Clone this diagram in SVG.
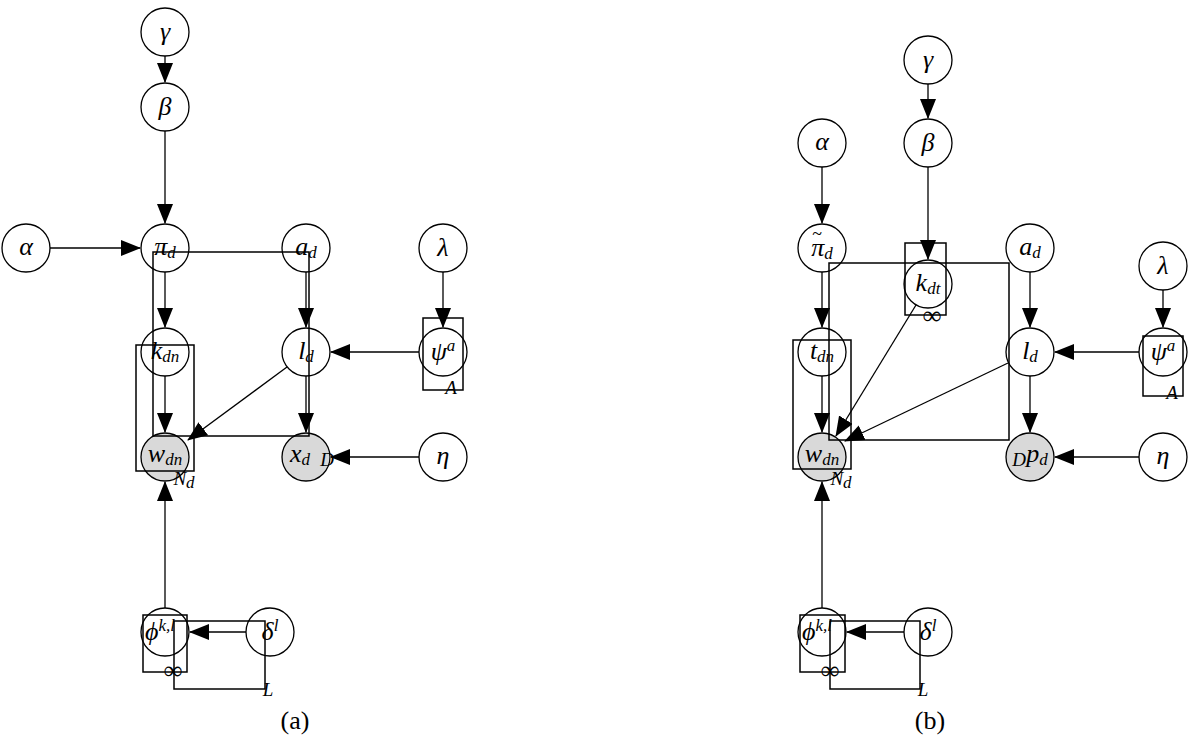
<svg xmlns="http://www.w3.org/2000/svg" width="1190" height="736" viewBox="0 0 1190 736">
<style>
.n{fill:#fff;stroke:#000;stroke-width:1.3}
.o{fill:#d9d9d9;stroke:#000;stroke-width:1.3}
.p{fill:none;stroke:#000;stroke-width:1.5}
.e{stroke:#000;stroke-width:1.3;fill:none;marker-end:url(#a)}
text{font-family:"Liberation Serif",serif;font-style:italic;font-size:26px;text-anchor:middle}
.s{font-size:17px}
.m{font-size:19px}
.c{font-style:normal;font-size:26px}
</style>
<defs><marker id="a" markerWidth="20" markerHeight="20" refX="19" refY="8" orient="auto" markerUnits="userSpaceOnUse"><path d="M0,0L20,8L0,16Z"/></marker></defs>
<g id="edges">
<line class="e" x1="165" y1="56" x2="165" y2="82"/>
<line class="e" x1="165" y1="131" x2="165" y2="223"/>
<line class="e" x1="50" y1="248" x2="140" y2="248"/>
<line class="e" x1="165" y1="272" x2="165" y2="327"/>
<line class="e" x1="306" y1="272" x2="306" y2="327"/>
<line class="e" x1="165" y1="376" x2="165" y2="432"/>
<line class="e" x1="287" y1="367" x2="188" y2="440"/>
<line class="e" x1="306" y1="376" x2="306" y2="432"/>
<line class="e" x1="443" y1="272" x2="443" y2="327"/>
<line class="e" x1="419" y1="352" x2="331" y2="352"/>
<line class="e" x1="419" y1="457" x2="331" y2="457"/>
<line class="e" x1="165" y1="608" x2="165" y2="482"/>
<line class="e" x1="246" y1="632" x2="190" y2="632"/>
<line class="e" x1="928" y1="84" x2="928" y2="118"/>
<line class="e" x1="928" y1="167" x2="928" y2="259"/>
<line class="e" x1="822" y1="167" x2="822" y2="223"/>
<line class="e" x1="822" y1="272" x2="822" y2="327"/>
<line class="e" x1="822" y1="376" x2="822" y2="432"/>
<line class="e" x1="916" y1="305" x2="836" y2="436"/>
<line class="e" x1="1008" y1="363" x2="845" y2="441"/>
<line class="e" x1="1030" y1="272" x2="1030" y2="327"/>
<line class="e" x1="1030" y1="376" x2="1030" y2="432"/>
<line class="e" x1="1163" y1="290" x2="1163" y2="327"/>
<line class="e" x1="1139" y1="352" x2="1055" y2="352"/>
<line class="e" x1="1139" y1="457" x2="1055" y2="457"/>
<line class="e" x1="822" y1="608" x2="822" y2="482"/>
<line class="e" x1="904" y1="632" x2="847" y2="632"/>
</g>
<g id="gamma_a"><circle class="n" cx="165" cy="32" r="24"/><text x="165" y="40">γ</text></g>
<g id="beta_a"><circle class="n" cx="165" cy="107" r="24"/><text x="165" y="115">β</text></g>
<g id="alpha_a"><circle class="n" cx="26" cy="248" r="24"/><text x="26" y="255">α</text></g>
<g id="pi_a"><circle class="n" cx="165" cy="248" r="24"/><text x="165" y="255">π<tspan class="s" dy="3">d</tspan></text></g>
<g id="a_a"><circle class="n" cx="306" cy="248" r="24"/><text x="306" y="255">a<tspan class="s" dy="3">d</tspan></text></g>
<g id="lambda_a"><circle class="n" cx="443" cy="248" r="24"/><text x="443" y="256">λ</text></g>
<g id="k_a"><circle class="n" cx="165" cy="352" r="24"/><text x="165" y="359">k<tspan class="s" dy="3">dn</tspan></text></g>
<g id="l_a"><circle class="n" cx="306" cy="352" r="24"/><text x="306" y="359">l<tspan class="s" dy="3">d</tspan></text></g>
<g id="psi_a"><circle class="n" cx="443" cy="352" r="24"/><text x="443" y="360">ψ<tspan class="s" dy="-9">a</tspan></text></g>
<g id="w_a"><circle class="o" cx="165" cy="457" r="24"/><text x="165" y="462">w<tspan class="s" dy="3">dn</tspan></text></g>
<g id="x_a"><circle class="o" cx="306" cy="457" r="24"/><text x="300" y="462">x<tspan class="s" dy="3">d</tspan></text></g>
<g id="eta_a"><circle class="n" cx="443" cy="457" r="24"/><text x="443" y="464">η</text></g>
<g id="phi_a"><circle class="n" cx="165" cy="632" r="24"/><text x="160" y="640">ϕ<tspan class="s" dy="-9">k,l</tspan></text></g>
<g id="delta_a"><circle class="n" cx="270" cy="632" r="24"/><text x="270" y="640">δ<tspan class="s" dy="-9">l</tspan></text></g>
<g id="plates_a">
<rect class="p" x="153" y="252" width="156" height="184"/><text class="m" x="327" y="466">D</text>
<rect class="p" x="136" y="345" width="58" height="126"/><text class="m" x="184" y="485">N<tspan class="s" dy="3">d</tspan></text>
<rect class="p" x="423" y="318" width="40" height="72"/><text class="m" x="451" y="394">A</text>
<rect class="p" x="143" y="615" width="44" height="57"/><text x="173" y="679">∞</text>
<rect class="p" x="174" y="621" width="91" height="68"/><text class="m" x="268" y="696">L</text>
</g>
<g id="gamma_b"><circle class="n" cx="928" cy="60" r="24"/><text x="928" y="68">γ</text></g>
<g id="beta_b"><circle class="n" cx="928" cy="143" r="24"/><text x="928" y="151">β</text></g>
<g id="alpha_b"><circle class="n" cx="822" cy="143" r="24"/><text x="822" y="150">α</text></g>
<g id="pi_b"><circle class="n" cx="822" cy="248" r="24"/><text x="822" y="256">π<tspan class="s" dy="3">d</tspan></text><text x="817" y="240" style="font-style:normal;font-size:18px">~</text></g>
<g id="k_b"><circle class="n" cx="928" cy="284" r="24"/><text x="928" y="291">k<tspan class="s" dy="3">dt</tspan></text></g>
<g id="a_b"><circle class="n" cx="1030" cy="248" r="24"/><text x="1030" y="255">a<tspan class="s" dy="3">d</tspan></text></g>
<g id="lambda_b"><circle class="n" cx="1163" cy="266" r="24"/><text x="1163" y="274">λ</text></g>
<g id="t_b"><circle class="n" cx="822" cy="352" r="24"/><text x="822" y="359">t<tspan class="s" dy="3">dn</tspan></text></g>
<g id="l_b"><circle class="n" cx="1030" cy="352" r="24"/><text x="1030" y="359">l<tspan class="s" dy="3">d</tspan></text></g>
<g id="psi_b"><circle class="n" cx="1163" cy="352" r="24"/><text x="1163" y="360">ψ<tspan class="s" dy="-9">a</tspan></text></g>
<g id="w_b"><circle class="o" cx="822" cy="457" r="24"/><text x="822" y="462">w<tspan class="s" dy="3">dn</tspan></text></g>
<g id="p_b"><circle class="o" cx="1030" cy="457" r="24"/><text x="1037" y="462">p<tspan class="s" dy="3">d</tspan></text></g>
<g id="eta_b"><circle class="n" cx="1163" cy="457" r="24"/><text x="1163" y="464">η</text></g>
<g id="phi_b"><circle class="n" cx="822" cy="632" r="24"/><text x="817" y="640">ϕ<tspan class="s" dy="-9">k,l</tspan></text></g>
<g id="delta_b"><circle class="n" cx="928" cy="632" r="24"/><text x="928" y="640">δ<tspan class="s" dy="-9">l</tspan></text></g>
<g id="plates_b">
<rect class="p" x="829" y="263" width="180" height="177"/><text class="m" x="1019" y="466">D</text>
<rect class="p" x="905" y="243" width="41" height="72"/><text x="932" y="324">∞</text>
<rect class="p" x="793" y="340" width="58" height="129"/><text class="m" x="841" y="485">N<tspan class="s" dy="3">d</tspan></text>
<rect class="p" x="1143" y="336" width="40" height="60"/><text class="m" x="1172" y="399">A</text>
<rect class="p" x="800" y="615" width="45" height="57"/><text x="830" y="679">∞</text>
<rect class="p" x="830" y="621" width="90" height="68"/><text class="m" x="923" y="696">L</text>
</g>
<text class="c" x="295" y="729">(a)</text>
<text class="c" x="930" y="729">(b)</text>
</svg>
